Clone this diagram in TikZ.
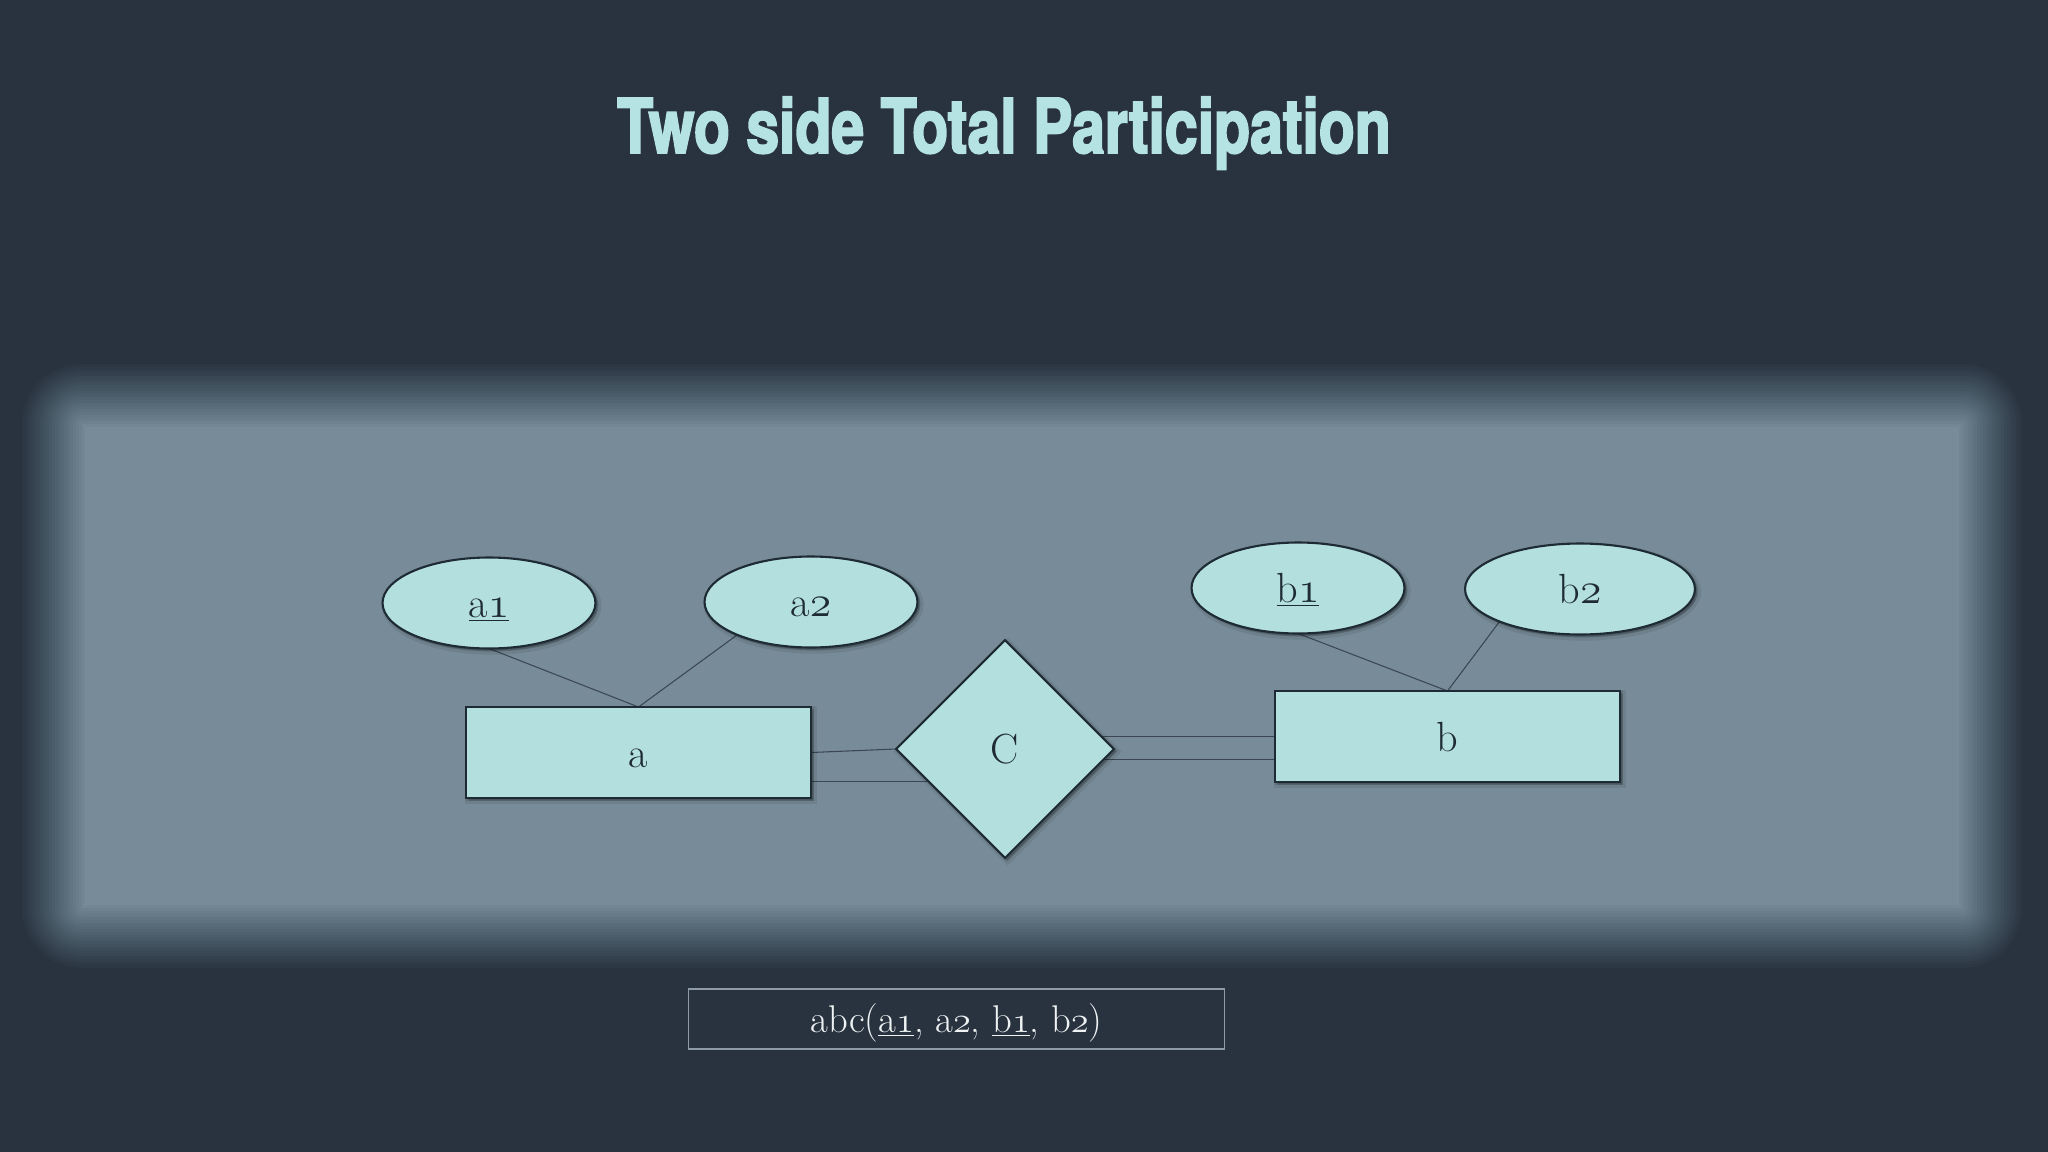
\documentclass[tikz,border=0pt]{standalone}
\usepackage{fontspec}
\newfontfamily\titlefont{TeX Gyre Heros}[FakeStretch=0.78, BoldFeatures={FakeBold=2.4}]
\usetikzlibrary{shapes.geometric,calc}
\definecolor{bgdark}{HTML}{29333F}
\definecolor{panel}{HTML}{778B98}
\definecolor{shapefill}{HTML}{B3DFDF}
\definecolor{shapeline}{HTML}{1E2B35}
\definecolor{titlecol}{HTML}{B5E3E3}
\definecolor{connline}{HTML}{3A4752}
\definecolor{boxline}{HTML}{8E9CA7}
\definecolor{boxtext}{HTML}{EEF2F3}
\newcommand{\osn}[1]{{\usefont{OML}{cmm}{m}{it}#1}}
\pgfdeclarelayer{bg}
\pgfsetlayers{bg,main}
\tikzset{
  erbase/.style={draw=shapeline, fill=shapefill, line width=1.2pt, inner sep=0pt, outer sep=0pt,
    text=shapeline, font=\fontsize{24pt}{28pt}\selectfont, text height=17pt, text depth=0pt,
    preaction={draw=black, line width=4pt, draw opacity=0.08, fill=black, fill opacity=0.12,
      transform canvas={shift={(1.5pt,-1.5pt)}}},
    preaction={draw=black, line width=1.5pt, draw opacity=0.12, fill=black, fill opacity=0.12,
      transform canvas={shift={(1pt,-1pt)}}}},
  entity/.style={erbase, rectangle, minimum width=6.9cm, minimum height=1.82cm},
  attrib/.style={erbase, ellipse, minimum width=4.26cm, minimum height=1.82cm},
  relation/.style={erbase, diamond, aspect=1, minimum width=4.36cm, minimum height=4.36cm},
  conn/.style={draw=connline, line width=0.6pt},
}
\begin{document}
\begin{tikzpicture}[x=0.02cm, y=-0.02cm]
\useasboundingbox (0,0) rectangle (2048,1152);
% soft-edged panel
\begin{pgfonlayer}{bg}
\fill[bgdark] (0,0) rectangle (2048,1152);
\foreach \k [evaluate=\k as \op using {1/(23-\k)}, evaluate=\k as \d using {3*(\k-1)},
             evaluate=\k as \rr using {(60-3*(\k-1))*0.5669}] in {1,...,22} {
  \fill[panel, fill opacity=\op, rounded corners=\rr pt] (22+\d, 364+\d) rectangle (2022-\d, 968-\d);
}
\end{pgfonlayer}

\node[text=titlecol, anchor=base, font=\titlefont\bfseries\fontsize{43pt}{50pt}\selectfont] (title) at (1004,153) {Two side Total Participation};

\node[attrib] (a1) at (489,603) {\underline{a\osn{1}}};
\node[attrib] (a2) at (811,602) {a\osn{2}};
\node[attrib] (b1) at (1298,588) {\underline{b\osn{1}}};
\node[attrib, minimum width=4.6cm] (b2) at (1580,589) {b\osn{2}};
\node[entity] (a) at (638.5,752.5) {a};
\node[entity] (b) at (1447.5,736.5) {b};
\node[relation] (C) at (1005,749) {C};

\coordinate (alo) at ($(a.east)+(0,29)$);
\coordinate (blo) at ($(b.west)+(0,23)$);

\begin{pgfonlayer}{bg}
\draw[conn] (a1.south) -- (a.north);
\draw[conn] (a2.204) -- (a.north);
\draw[conn] (b1.south) -- (b.north);
\draw[conn] (b2.202) -- (b.north);
\draw[conn] (a.east) -- (C.west);
\draw[conn] (alo) -- (C.center |- alo);
\draw[conn] (b.west) -- (b.west -| C.center);
\draw[conn] (blo) -- (blo -| C.center);
\end{pgfonlayer}

\node[draw=boxline, line width=0.6pt, minimum width=10.74cm, minimum height=1.2cm, inner sep=0pt,
  text=boxtext, font=\fontsize{22pt}{26pt}\selectfont, text height=15pt, text depth=0pt] (rel) at (956.5,1019)
  {abc(\underline{a\osn{1}}, a\osn{2}, \underline{b\osn{1}}, b\osn{2})};
\end{tikzpicture}
\end{document}
